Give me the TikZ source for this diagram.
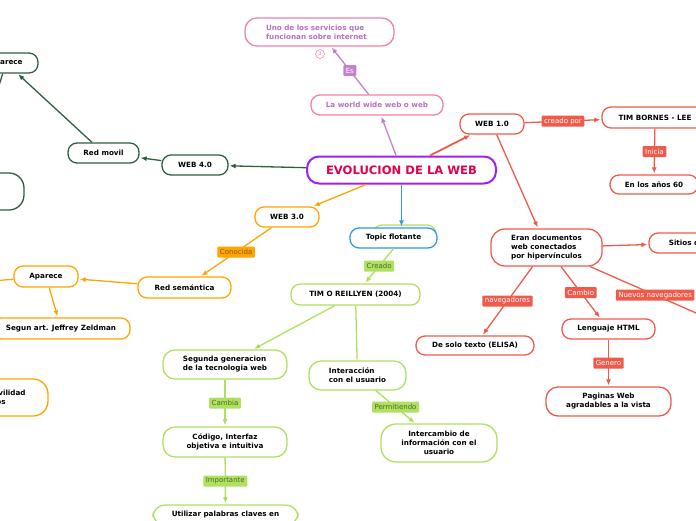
\documentclass[tikz,border=0pt]{standalone}
\usepackage{fontspec}
\setmainfont{DejaVu Sans}
\usetikzlibrary{arrows.meta,positioning}

\definecolor{violeta}{HTML}{A020F0}
\definecolor{carmin}{HTML}{E0004D}
\definecolor{rosa}{HTML}{F380A6}
\definecolor{orquidea}{HTML}{B86FC5}
\definecolor{lila}{HTML}{C283CC}
\definecolor{rojo}{HTML}{EF5B4B}
\definecolor{azul}{HTML}{2E9BE0}
\definecolor{verde}{HTML}{B0E060}
\definecolor{verdetxt}{HTML}{4A6A2A}
\definecolor{naranja}{HTML}{FFA500}
\definecolor{naranjatxt}{HTML}{8B5A00}
\definecolor{pino}{HTML}{2F5F3F}

\begin{document}
\begin{tikzpicture}[
    x = 1pt, y = -1pt, % pixel grid, y going down
    > = {Latex[length=6pt,width=5pt]}, % arrow head style
    shorten > = 1pt, % don't touch arrow head to node
    line width = 1.3pt % line style
    ]

    \tikzset{
    topic/.style = {draw, fill = white, rounded corners = 9pt,
      line width = 1.3pt, text = black, inner sep = 2pt,
      font = \fontsize{7.2}{9}\selectfont\bfseries},
    tag/.style = {inner xsep = 2.5pt, inner ysep = 1.5pt, minimum height = 11pt,
      rounded corners = 1pt, font = \fontsize{7}{8}\selectfont},
    redtag/.style = {tag, fill = rojo, text = white},
    greentag/.style = {tag, fill = verde, text = verdetxt},
    orangetag/.style = {tag, fill = naranja, text = naranjatxt},
    lilatag/.style = {tag, fill = lila, text = white}
    }
    \useasboundingbox (0,0) rectangle (696,520);

    % centre
    \node[topic, draw = violeta, line width = 2pt, rounded corners = 12pt, text = carmin,
      font = \fontsize{11.6}{13}\selectfont\bfseries,
      minimum width = 189pt, minimum height = 27pt] (main) at (401.5,170) {EVOLUCION DE LA WEB};

    % www
    \node[topic, draw = rosa, text = orquidea, minimum width = 132pt, minimum height = 20pt] (www) at (377,105) {La world wide web o web};
    \node[topic, draw = rosa, text = orquidea, align = left, text width = 107pt, inner xsep = 21pt,
      minimum height = 28pt, rounded corners = 12pt] (uno) at (319.5,32) {Uno de los servicios que\\funcionan sobre internet};
    \node[circle, draw = rosa, line width = 0.5pt, minimum size = 9pt, inner sep = 0pt, text = rosa,
      font = \fontsize{5}{5}\selectfont] (nota) at (320,54) {3};

    \path[->, draw = lila] (main) edge (www);
    \path[->, draw = lila] (www) edge node[lilatag]{Es} (uno);

    % web 1.0
    \node[topic, draw = rojo, minimum width = 64pt, minimum height = 20pt] (web1) at (492,124) {WEB 1.0};
    \node[topic, draw = rojo, minimum width = 106pt, minimum height = 21pt] (bornes) at (655,117.5) {TIM BORNES - LEE};
    \node[topic, draw = rojo, minimum width = 88pt, minimum height = 19pt] (anos) at (654,184.5) {En los años 60};
    \node[topic, draw = rojo, align = left, minimum width = 111pt, minimum height = 37pt, rounded corners = 14pt] (eran) at (546.5,247.5) {Eran documentos\\web conectados\\por hipervínculos};
    \node[topic, draw = rojo, minimum width = 106pt, minimum height = 20pt] (sitios) at (702,243) {Sitios dinámicos};
    \node[topic, draw = rojo, minimum width = 118pt, minimum height = 19pt] (solo) at (475,345.5) {De solo texto (ELISA)};
    \node[topic, draw = rojo, minimum width = 93pt, minimum height = 20pt] (html) at (608.5,329) {Lenguaje HTML};
    \node[topic, draw = rojo, align = center, minimum width = 125pt, minimum height = 29pt, rounded corners = 12pt] (paginas) at (608.5,401.5) {Paginas Web\\agradables a la vista};
    \coordinate (nuevos) at (720,323.5);

    \path[->, draw = rojo, line width = 1.8pt] (main) edge (web1);
    \path[->, draw = rojo] (web1) edge node[redtag]{creado por} (bornes);
    \path[->, draw = rojo] (bornes) edge node[redtag]{Inicia} (anos);
    \path[->, draw = rojo] (web1) edge (eran);
    \path[->, draw = rojo] (eran) edge (sitios);
    \path[->, draw = rojo] (eran) edge node[redtag]{navegadores} (solo);
    \path[->, draw = rojo] (eran) edge node[redtag]{Cambio} (html);
    \path[draw = rojo] (eran) edge node[redtag]{Nuevos navegadores} (nuevos);
    \path[->, draw = rojo] (html) edge node[redtag]{Genero} (paginas);

    % topic flotante
    \node[topic, draw = verde, minimum width = 63pt, minimum height = 20pt] (detras) at (404.5,235) {};
    \node[topic, draw = azul, minimum width = 87pt, minimum height = 20pt] (flotante) at (393.5,238) {Topic flotante};
    \node[topic, draw = verde, minimum width = 129pt, minimum height = 21pt] (oreilly) at (355.5,294.5) {TIM O REILLYEN (2004)};
    \node[topic, draw = verde, align = left, minimum width = 124pt, minimum height = 29pt, rounded corners = 12pt] (segunda) at (225,364.5) {Segunda generacion\\de la tecnologia web};
    \node[topic, draw = verde, align = left, minimum width = 97pt, minimum height = 29pt, rounded corners = 12pt] (interaccion) at (357.5,375.5) {Interacción\\con el usuario};
    \node[topic, draw = verde, align = center, minimum width = 116pt, minimum height = 38pt, rounded corners = 15pt] (intercambio) at (439,443) {Intercambio de\\información con el\\usuario};
    \node[topic, draw = verde, align = center, minimum width = 124pt, minimum height = 30pt, rounded corners = 12pt] (codigo) at (225,442) {Código, Interfaz\\objetiva e intuitiva};
    \node[topic, draw = verde, minimum width = 145pt, minimum height = 20pt, rounded corners = 12pt] (claves) at (225.5,515) {Utilizar palabras claves en};

    \draw[->, azul] (main.south) -- (main.south |- flotante.north);
    \draw[->, verde] (flotante.south) -- node[greentag]{Creado} (oreilly);
    \path[->, draw = verde] (oreilly) edge (segunda);
    \path[draw = verde] (oreilly) edge (interaccion);
    \path[->, draw = verde] (interaccion) edge node[greentag]{Permitiendo} (intercambio);
    \path[->, draw = verde] (segunda) edge node[greentag]{Cambia} (codigo);
    \path[->, draw = verde] (codigo) edge node[greentag]{Importante} (claves);

    % web 3.0
    \node[topic, draw = naranja, minimum width = 64pt, minimum height = 20pt] (web3) at (287,217) {WEB 3.0};
    \node[topic, draw = naranja, minimum width = 93pt, minimum height = 21pt] (semantica) at (184.5,287.5) {Red semántica};
    \node[topic, draw = naranja, minimum width = 64pt, minimum height = 21pt] (aparece3) at (46,276.5) {Aparece};
    \node[topic, draw = naranja, minimum width = 138pt, minimum height = 21pt] (zeldman) at (61,328.5) {Segun art. Jeffrey Zeldman};
    \node[topic, draw = naranja, align = left, minimum width = 112pt, minimum height = 37pt, rounded corners = 15pt] (movilidad) at (-8,397.5) {Mayor movilidad\\de usuarios};
    \coordinate (suelto3) at (-20,282);

    \path[->, draw = naranja] (main) edge (web3);
    \path[->, draw = naranja] (web3) edge node[orangetag]{Conocida} (semantica);
    \path[->, draw = naranja] (semantica) edge (aparece3);
    \path[draw = naranja] (aparece3) edge (suelto3);
    \path[->, draw = naranja] (aparece3) edge (zeldman);

    % web 4.0
    \node[topic, draw = pino, minimum width = 66pt, minimum height = 20pt] (web4) at (195,165) {WEB 4.0};
    \node[topic, draw = pino, minimum width = 71pt, minimum height = 20pt] (redmovil) at (103.5,153) {Red movil};
    \node[topic, draw = pino, minimum width = 64pt, minimum height = 20pt] (aparece4) at (6,63) {Aparece};
    \node[topic, draw = pino, minimum width = 108pt, minimum height = 37pt, rounded corners = 15pt] (caja4) at (-30,191.5) {};
    \coordinate (suelto4) at (-3,92);

    \path[->, draw = pino] (main) edge (web4);
    \path[->, draw = pino] (web4) edge (redmovil);
    \path[->, draw = pino] (redmovil) edge (aparece4);
    \path[draw = pino] (aparece4) edge (suelto4);
\end{tikzpicture}
\end{document}
